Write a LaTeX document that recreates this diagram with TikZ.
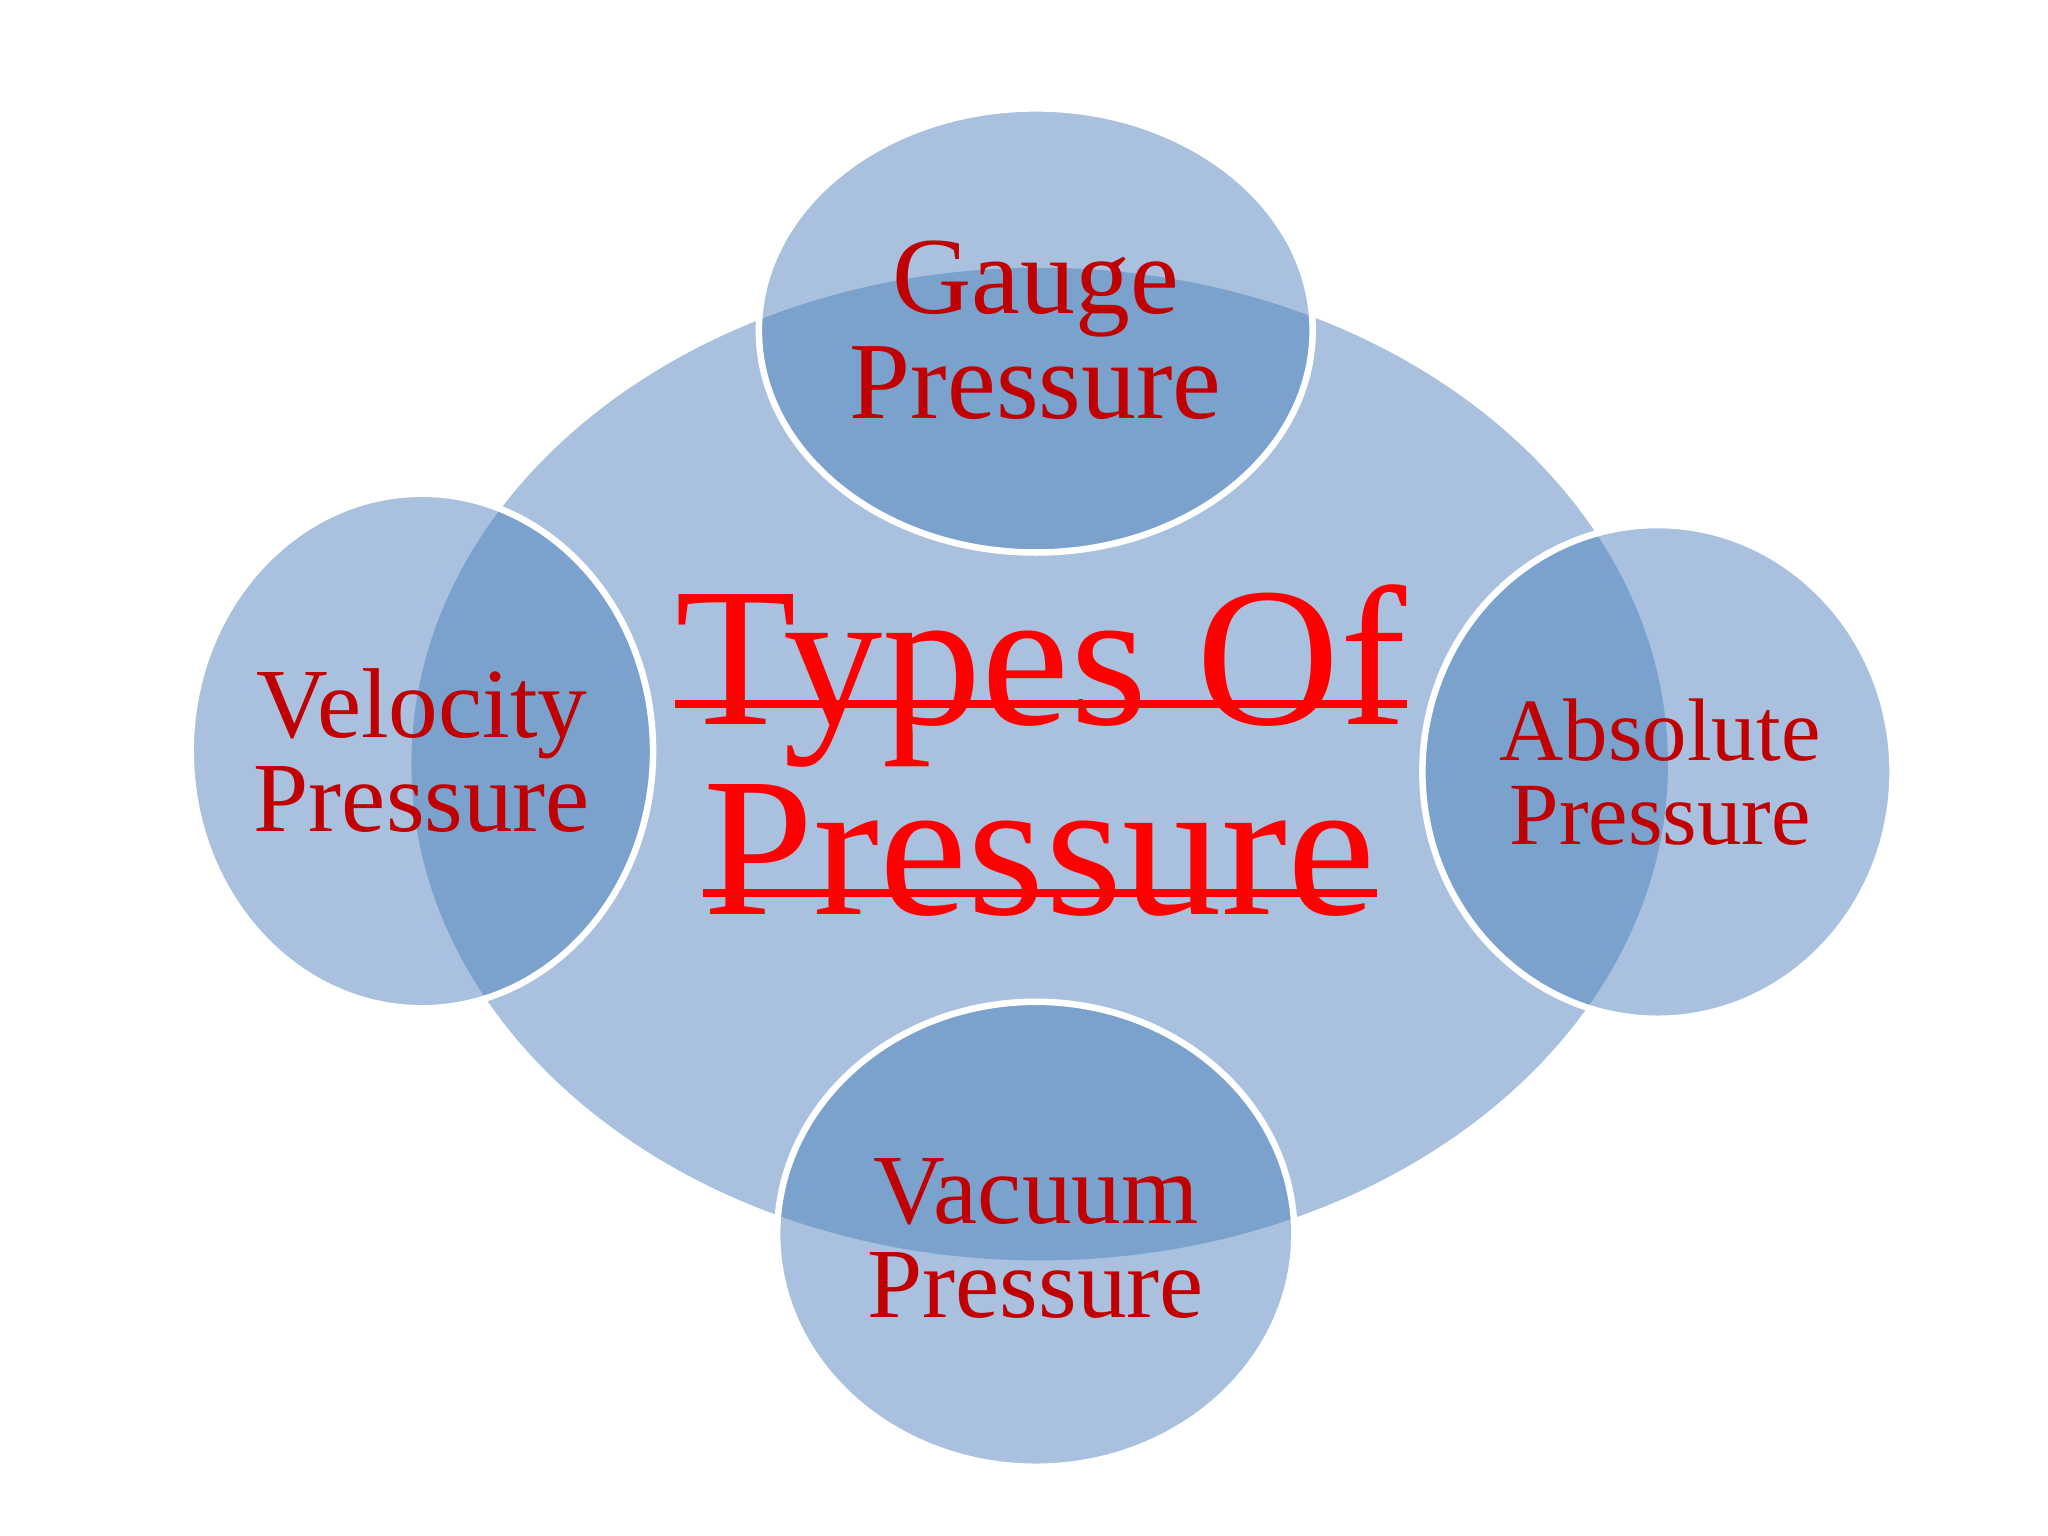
\documentclass[tikz,border=0pt]{standalone}
\usepackage{fontspec}
\setmainfont{Liberation Serif}
\usetikzlibrary{calc}
\definecolor{lightb}{HTML}{A9C0DF}
\definecolor{darkb}{HTML}{7BA1CD}
\definecolor{lab}{HTML}{C00000}
\definecolor{ttl}{HTML}{FF0000}
\tikzset{lbl/.style={text=lab,align=center,inner sep=0pt},
ttlstyle/.style={text=ttl,inner sep=0pt,anchor=base,font=\fontsize{76}{76}\selectfont},
uline/.style={draw=ttl,line width=3pt}}
\begin{document}
\begin{tikzpicture}[x=0.5pt,y=-0.5pt]
\useasboundingbox (0,0) rectangle (1568,1176);
\fill[white] (0,0) rectangle (1568,1176);
\def\big{(796,585) ellipse [x radius=481,y radius=380]}
\def\ga{(793,253) ellipse [x radius=212,y radius=170]}
\def\ve{(323,575) ellipse [x radius=177,y radius=197]}
\def\ab{(1269,591) ellipse [x radius=180,y radius=189]}
\def\va{(793,945) ellipse [x radius=198,y radius=178]}
\fill[lightb] \big;
\foreach \e in {\ga,\ve,\ab,\va}{
  \fill[lightb] \e;
  \begin{scope}\clip \big; \fill[darkb] \e; \end{scope}
  \draw[white,line width=2.5pt] \e;
}
\node[lbl,font=\fontsize{42}{40}\selectfont] (g) at (793,253) {Gauge\\Pressure};
\node[lbl,font=\fontsize{38}{36}\selectfont] (v) at (323,575) {Velocity\\Pressure};
\node[lbl,font=\fontsize{34}{32}\selectfont] (a) at (1271,591) {Absolute\\Pressure};
\node[lbl,font=\fontsize{38}{36}\selectfont] (c) at (793,948) {Vacuum\\Pressure};
\node[ttlstyle] (t1) at (797,555) {Types Of};
\node[ttlstyle] (t2) at (796,700) {Pressure};
\draw[uline] ($(t1.base west)+(0,-16)$) -- ($(t1.base east)+(0,-16)$);
\draw[uline] ($(t2.base west)+(0,-16)$) -- ($(t2.base east)+(0,-16)$);
\end{tikzpicture}
\end{document}
